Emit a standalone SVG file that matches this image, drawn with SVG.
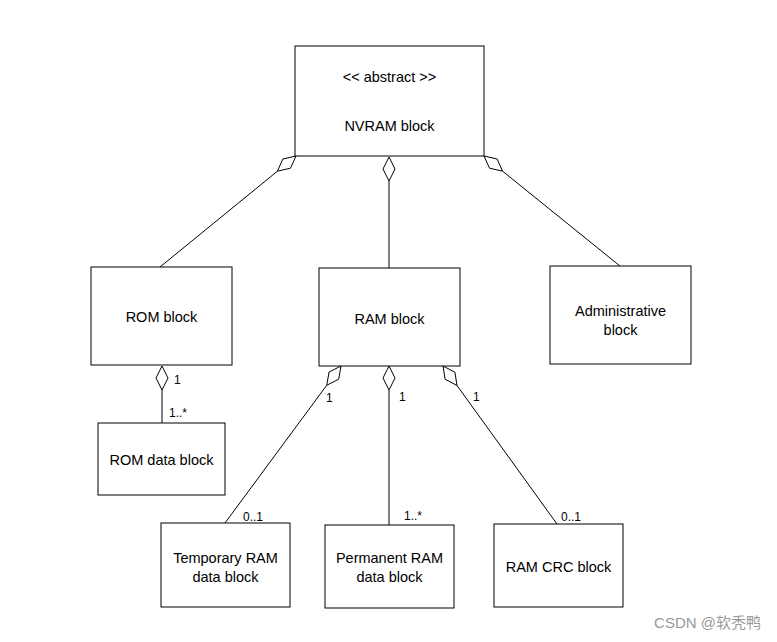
<svg xmlns="http://www.w3.org/2000/svg" width="777" height="642" viewBox="0 0 777 642">
<style>
.box{fill:#fff;stroke:#000;stroke-width:1}
.t{font-family:"Liberation Sans",Arial,sans-serif;font-size:14.5px;fill:#000;text-anchor:middle}
.l{font-family:"Liberation Sans",Arial,sans-serif;font-size:12px;fill:#000}
.c{stroke:#000;stroke-width:1;fill:none}
.d{stroke:#000;stroke-width:1;fill:#fff}
</style>
<rect width="777" height="642" fill="#fff"/>
<g id="connectors">
<line class="c" x1="277.4" y1="171.2" x2="160" y2="267"/>
<line class="c" x1="502.6" y1="171.2" x2="620" y2="266"/>
<line class="c" x1="389" y1="181" x2="389" y2="268"/>
<line class="c" x1="162" y1="390" x2="162" y2="423"/>
<line class="c" x1="326.7" y1="385.3" x2="225" y2="523"/>
<line class="c" x1="389" y1="390" x2="389" y2="525"/>
<line class="c" x1="457" y1="385.5" x2="557" y2="524"/>
<polygon class="d" points="296,156 290.5,168.2 277.4,171.2 282.9,159"/>
<polygon class="d" points="484,156 489.5,168.2 502.6,171.2 497.1,159"/>
<polygon class="d" points="389,157 395,169 389,181 383,169"/>
<polygon class="d" points="162,366 168,378 162,390 156,378"/>
<polygon class="d" points="341,366 338.7,379.2 326.7,385.3 329.1,372"/>
<polygon class="d" points="389,366 395,378 389,390 383,378"/>
<polygon class="d" points="443,366 445.1,379.2 457,385.5 454.9,372.2"/>
<text class="l" x="174" y="384">1</text>
<text class="l" x="169" y="417">1..*</text>
<text class="l" x="326" y="402">1</text>
<text class="l" x="399" y="401">1</text>
<text class="l" x="473" y="401">1</text>
<text class="l" x="243" y="521">0..1</text>
<text class="l" x="404" y="520">1..*</text>
<text class="l" x="561" y="521">0..1</text>
</g>
<g id="nvram"><rect class="box" x="295" y="46" width="189" height="110" stroke-width="2"/>
<text class="t" x="389.5" y="82" font-size="12">&lt;&lt; abstract &gt;&gt;</text>
<text class="t" x="389.5" y="131">NVRAM block</text></g>
<g id="rom"><rect class="box" x="91" y="267" width="141" height="98"/><text class="t" x="161.5" y="322">ROM block</text></g>
<g id="ram"><rect class="box" x="319" y="268" width="141" height="98"/><text class="t" x="389.5" y="324">RAM block</text></g>
<g id="admin"><rect class="box" x="550" y="266" width="141" height="98"/><text class="t" x="620.5" y="316">Administrative</text><text class="t" x="620.5" y="335">block</text></g>
<g id="romdata"><rect class="box" x="98" y="423" width="127" height="72"/><text class="t" x="161.5" y="465">ROM data block</text></g>
<g id="temp"><rect class="box" x="161" y="523" width="129" height="84"/><text class="t" x="225.5" y="563">Temporary RAM</text><text class="t" x="225.5" y="582">data block</text></g>
<g id="perm"><rect class="box" x="325" y="525" width="129" height="83"/><text class="t" x="389.5" y="563">Permanent RAM</text><text class="t" x="389.5" y="582">data block</text></g>
<g id="crc"><rect class="box" x="494" y="524" width="129" height="83"/><text class="t" x="558.5" y="572">RAM CRC block</text></g>
<text x="761" y="628" text-anchor="end" font-family="'Liberation Sans','Noto Sans CJK SC',sans-serif" font-size="15" fill="#999">CSDN @软秃鸭</text>
</svg>
